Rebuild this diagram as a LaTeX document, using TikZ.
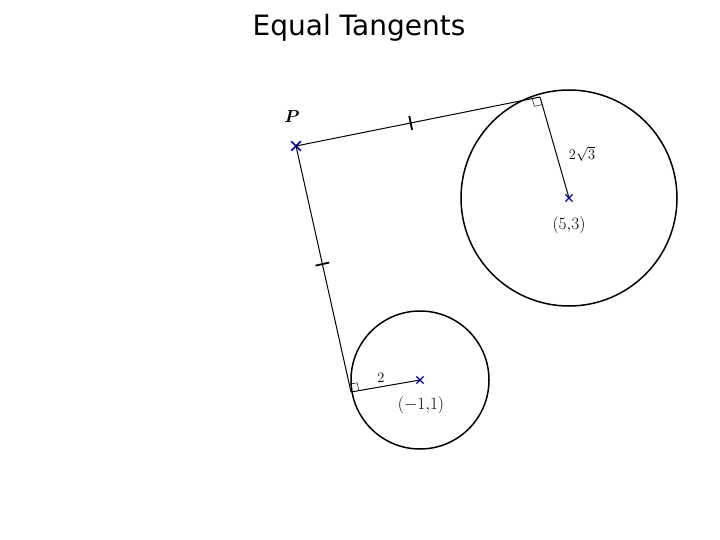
\documentclass[tikz,border=0pt]{standalone}
\usepackage{fontspec}
\usepackage{amsmath}
\usetikzlibrary{calc,shapes.misc}
\newfontfamily\titlefont{DejaVu Sans}
\begin{document}
\begin{tikzpicture}[x=1pt,y=-1pt,line width=1pt,
  cross/.style={cross out,draw=blue!60!black,line width=1.5pt,minimum size=8pt,inner sep=0pt},
  tickmark/.style={draw,line width=1.8pt,minimum height=14pt,minimum width=0pt,inner sep=0pt,sloped}]
\useasboundingbox (0,0) rectangle (720,540);
%-------->title<--------------
\node (title) at (359,28) {\titlefont\fontsize{28}{32}\selectfont Equal Tangents};
%-------->points<--------------
\coordinate (C1) at (569,198);
\coordinate (C2) at (420,380);
\coordinate (T1) at (540,97);
\coordinate (T2) at (351,392);
\node[cross] (P) at (296,146) {};
%-------->circles<--------------
\draw[line width=1.5pt] (C1) circle (108);
\draw[line width=1.5pt] (C2) circle (69);
%-------->tangents and radii<--------------
\draw (P.center) -- (T1) node[tickmark,pos=.47] {};
\draw (P.center) -- (T2) node[tickmark,pos=.48] {};
\draw (T1) -- (C1);
\draw (T2) -- (C2);
\node[cross,minimum size=6pt,line width=1.2pt] (c1) at (C1) {};
\node[cross,minimum size=6pt,line width=1.2pt] (c2) at (C2) {};
%-------->right angles<--------------
\draw[line width=.5pt] ($(T1)!8pt!(C1)$) -- ($(T1)!8pt!(C1)+(T1)!8pt!(P)-(T1)$) -- ($(T1)!8pt!(P)$);
\draw[line width=.5pt] ($(T2)!8pt!(C2)$) -- ($(T2)!8pt!(C2)+(T2)!8pt!(P)-(T2)$) -- ($(T2)!8pt!(P)$);
%-------->labels<--------------
\node (lP) at (292,117) {\fontsize{18}{20}\selectfont$\boldsymbol{P}$};
\node (l1) at (582,154) {\fontsize{14}{16}\selectfont$2\sqrt{3}$};
\node (l2) at (569,225) {\fontsize{18}{20}\selectfont$(5{,}3)$};
\node (l3) at (381,378) {\fontsize{15}{17}\selectfont$2$};
\node (l4) at (421,405) {\fontsize{18}{20}\selectfont$(-1{,}1)$};
\end{tikzpicture}
\end{document}
